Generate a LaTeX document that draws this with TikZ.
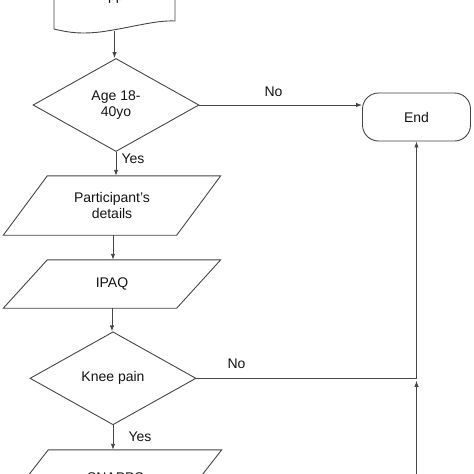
\documentclass[tikz,border=0pt]{standalone}
\usepackage{fontspec}
\setmainfont{Liberation Sans}
\usetikzlibrary{shapes.geometric,calc,arrows.meta}
\definecolor{linec}{RGB}{70,70,70}
\definecolor{txtc}{RGB}{20,20,20}
\begin{document}
\begin{tikzpicture}[x=1pt,y=-1pt,
  every node/.style={font=\fontsize{14}{16}\selectfont, text=txtc},
  shapeline/.style={draw=linec, line width=0.9pt},
  decision/.style={shapeline, diamond, minimum width=166pt, minimum height=93pt, inner sep=0pt, align=center},
  iobox/.style={minimum width=217pt, inner sep=0pt, align=center},
  terminal/.style={shapeline, rectangle, rounded corners=16pt, minimum width=108pt, minimum height=48pt},
  flow/.style={draw=linec, line width=0.9pt, -{Latex[length=6pt,width=4.5pt]}},
  lbl/.style={inner sep=0pt}]
\useasboundingbox[fill=white] (0,0) rectangle (474,474);

% top document shape (cut off)
\node[lbl, anchor=base] (doctext) at (116,0.5) {pp};
\node[inner sep=0pt, minimum width=121pt, minimum height=46pt] (doc) at (114.5,8) {};
\draw[shapeline] (54,-20) -- (54,29) .. controls (70,33) and (82,34) .. (100,32)
  .. controls (130,28) and (155,20) .. (175,21) -- (175,-20);

\node[decision] (d1) at (116,105) {Age 18-\\40yo};
\node[iobox, minimum height=59pt] (p1) at (112,205.5) {Participant's\\details};
\node[iobox, minimum height=48pt] (p2) at (112,284) {IPAQ};
\node[decision] (d2) at (113,378.3) {Knee pain};
\node[iobox, minimum height=56pt] (p3) at (113,478) {•SNAPPS};
\node[terminal] (end) at (416.5,117) {End};

\foreach \p in {p1,p2,p3}
  \draw[shapeline] ($(\p.north west)+(44,0)$) -- (\p.north east)
    -- ($(\p.south east)+(-44,0)$) -- (\p.south west) -- cycle;

% labels
\node[lbl] (no1) at (273.5,92) {No};
\node[lbl] (yes1) at (133,159) {Yes};
\node[lbl] (no2) at (236.5,364) {No};
\node[lbl] (yes2) at (140,437) {Yes};

% connectors
\draw[flow] (doc.south) -- (doc.south |- d1.north);
\draw[flow] (d1.south) -- (d1.south |- p1.north);
\draw[flow] ([xshift=1pt]p1.south) -- ([xshift=1pt]p2.north);
\draw[flow] (p2.south) -- (p2.south |- d2.north);
\draw[flow] (d2.south) -- (d2.south |- p3.north);
\draw[flow] (d1.east) -- (d1.east -| end.west);
\coordinate (junc) at (d2.east -| end.south);
\draw[flow] (d2.east) -- (junc) -- (end.south);
\coordinate (bot) at (416.5,480);
\draw[flow] (bot) -- ([yshift=-2.5pt]junc);
\end{tikzpicture}
\end{document}
